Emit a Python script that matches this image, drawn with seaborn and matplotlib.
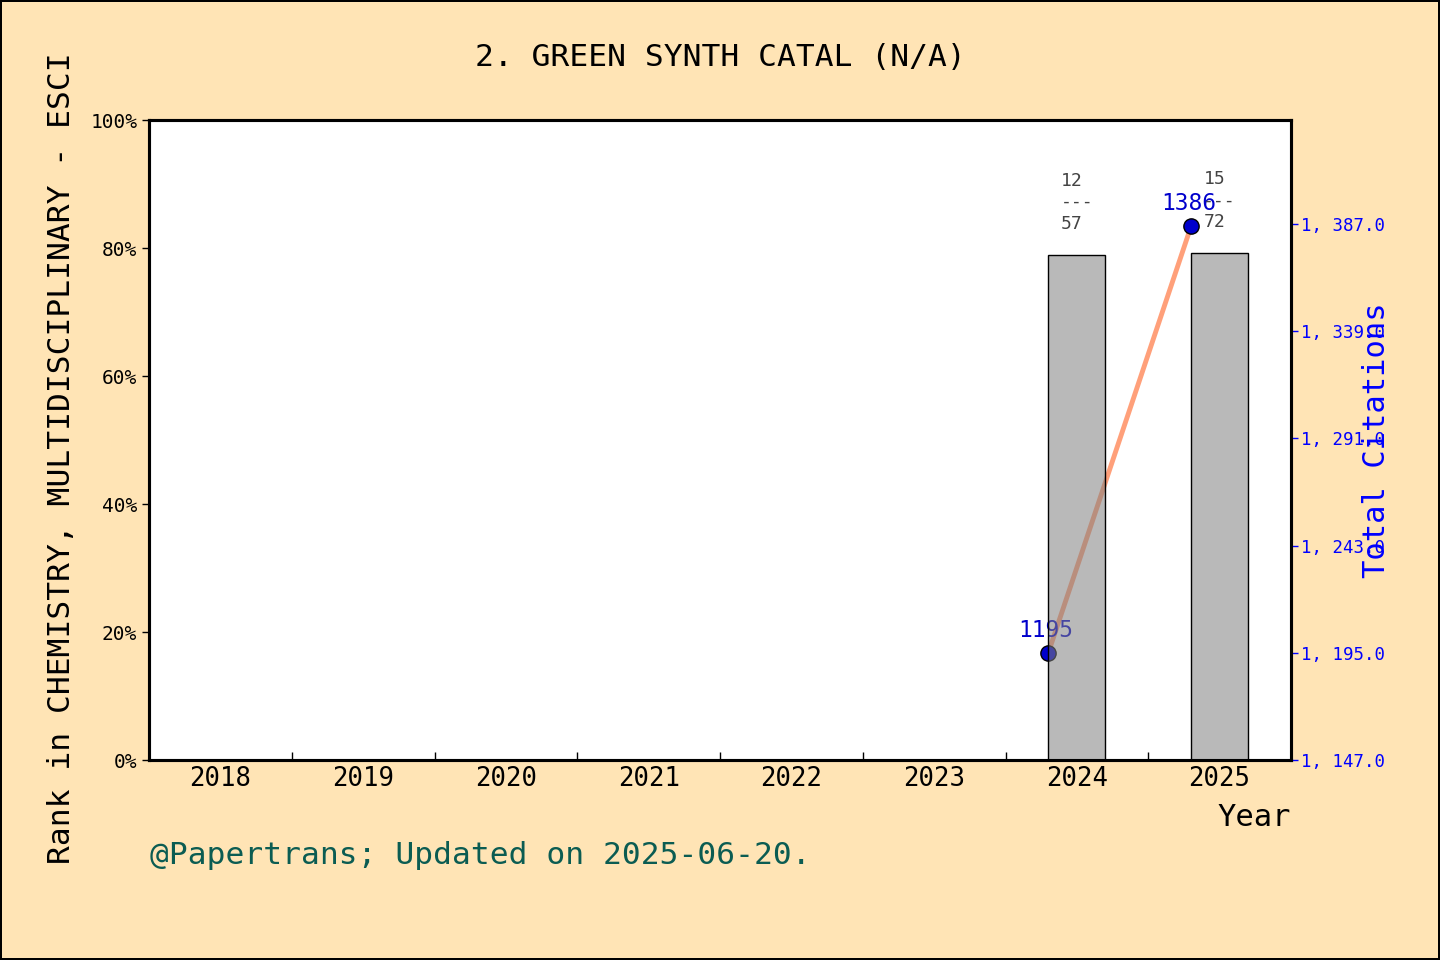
import matplotlib
matplotlib.use("Agg")
import matplotlib.pyplot as plt
import seaborn as sns
import numpy as np
import pandas as pd
from matplotlib.ticker import PercentFormatter, FixedLocator

# ---- data ----
years = ["2018", "2019", "2020", "2021", "2022", "2023", "2024", "2025"]
bar_years = ["2024", "2025"]
ranks = [12, 15]
totals = [57, 72]
cite_years = ["2024", "2025"]
citations = [1195, 1386]
cite_ticks = [1147.0, 1195.0, 1243.0, 1291.0, 1339.0, 1387.0]
cite_tick_labels = ["1, 147.0", "1, 195.0", "1, 243.0", "1, 291.0", "1, 339.0", "1, 387.0"]
title = "2. GREEN SYNTH CATAL (N/A)"
left_label = "Rank in CHEMISTRY, MULTIDISCIPLINARY - ESCI"
right_label = "Total Citations"
caption = "@Papertrans; Updated on 2025-06-20."

sns.set_theme(style="white")
plt.rcParams["font.family"] = ["DejaVu Sans Mono", "DejaVu Sans"]
plt.rcParams["text.color"] = "black"
plt.rcParams["axes.labelcolor"] = "black"
plt.rcParams["xtick.color"] = "black"
plt.rcParams["ytick.color"] = "black"

BG = "#FFE4B5"
fig = plt.figure(figsize=(14.4, 9.6), dpi=100, facecolor=BG, edgecolor="black", linewidth=1.5)
ax = fig.add_axes([149/1440, 1-760/960, 1142/1440, 640/960])
ax2 = ax.twinx()
ax.set_zorder(ax2.get_zorder() + 1)
ax.patch.set_visible(False)
ax2.patch.set_visible(True)
ax2.patch.set_facecolor("white")

# bars
pct = [1 - r / t for r, t in zip(ranks, totals)]
df = pd.DataFrame({"year": bar_years, "pct": pct})
sns.barplot(data=df, x="year", y="pct", order=years, ax=ax, width=0.4,
            color="#808080", edgecolor="black", linewidth=1, saturation=1)
for p in ax.patches:
    p.set_alpha(None)
    p.set_facecolor((0.5, 0.5, 0.5, 0.55))
    p.set_edgecolor((0, 0, 0, 1))
for y, p, r, t in zip(bar_years, pct, ranks, totals):
    i = years.index(y)
    ax.annotate(f"{r}\n---\n{t}", xy=(i, p), xytext=(0, 16), textcoords="offset points",
                ha="center", va="bottom", multialignment="left", fontsize=13,
                color="#444444", linespacing=1.25)

ax.set_xlim(-0.5, len(years) - 0.5)
ax.set_ylim(0, 1)
ax.yaxis.set_major_locator(FixedLocator([0, 0.2, 0.4, 0.6, 0.8, 1.0]))
ax.yaxis.set_major_formatter(PercentFormatter(1.0, decimals=0))
ax.tick_params(axis="y", labelsize=14, length=5, width=1, direction="out",
               colors="black", labelcolor="black", left=True)
ax.tick_params(axis="x", which="major", labelsize=18.5, length=0, pad=4, labelcolor="black")
ax.set_xticks(np.arange(len(years)) + 0.5, minor=True)
ax.tick_params(axis="x", which="minor", direction="in", length=6, width=1, bottom=True, colors="black")
ax.set_xlabel("Year", fontsize=22, loc="right", labelpad=8, color="black")
ax.set_ylabel(left_label, fontsize=22.5, color="black")
ax.yaxis.set_label_coords(-0.064, 0.472)

# citations line
cx = [years.index(y) - 0.2 for y in cite_years]
ldf = pd.DataFrame({"x": cx, "c": citations})
sns.lineplot(data=ldf, x="x", y="c", ax=ax2, color="#FFA07A", linewidth=3.5,
             marker="o", markersize=11, markerfacecolor="#0000CC",
             markeredgecolor="black", markeredgewidth=1)
for x, c in zip(cx, citations):
    ax2.annotate(str(c), xy=(x, c), xytext=(-2, 8), textcoords="offset points",
                 ha="center", va="bottom", fontsize=16.5, color="#0000CC")
ax2.set_ylim(1147, 1147 + 240 * 640 / 536)
ax2.yaxis.set_major_locator(FixedLocator(cite_ticks))
ax2.set_yticklabels(cite_tick_labels)
ax2.tick_params(axis="y", labelsize=12.5, colors="blue", length=5, width=1, direction="out", right=True, pad=2)
ax2.set_ylabel(right_label, fontsize=22, color="blue")
ax2.yaxis.set_label_coords(1.062, 0.5)
ax2.set_xlabel("")
ax2.set_xlim(-0.5, len(years) - 0.5)

for a in (ax, ax2):
    for s in a.spines.values():
        s.set_visible(True)
        s.set_color("black")
        s.set_linewidth(2.2)

fig.text(0.5, 1 - 57/960, title, ha="center", va="center", fontsize=22.5, color="black")
fig.text(150/1440, 1 - 855/960, caption, ha="left", va="center", fontsize=22.5, color="#0B5C52")

fig.savefig("out.png", dpi=100, facecolor=BG, edgecolor="black")
